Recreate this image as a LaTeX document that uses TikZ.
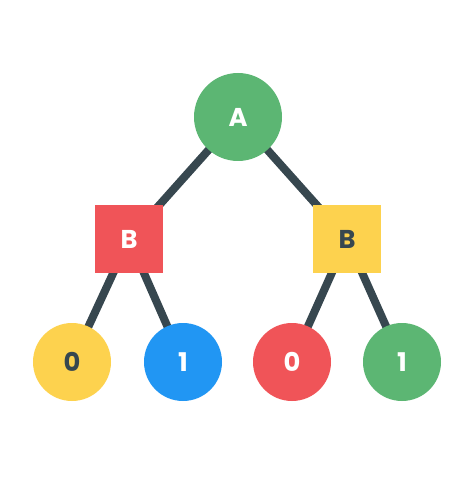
\documentclass[tikz,border=0pt]{standalone}
\usepackage{fontspec}
\setmainfont{Poppins}
\usepackage{xcolor}
\usetikzlibrary{backgrounds}

\definecolor{leafgreen}{HTML}{5CB673}
\definecolor{leafred}{HTML}{F05458}
\definecolor{leafyellow}{HTML}{FDD24E}
\definecolor{leafblue}{HTML}{2196F3}
\definecolor{edgegray}{HTML}{37474F}

\begin{document}
\begin{tikzpicture}[x=0.03cm,y=-0.03cm]
    % Define styles
    \tikzstyle{label}=[font=\fontsize{22}{26}\selectfont\bfseries]
    \tikzstyle{root}=[circle,minimum size=2.64cm,inner sep=0pt,label,text=white]
    \tikzstyle{test}=[rectangle,minimum size=2.04cm,inner sep=0pt,label]
    \tikzstyle{leaf}=[circle,minimum size=2.34cm,inner sep=0pt,label]
    \tikzstyle{edge}=[draw=edgegray,line width=0.24cm]

    \useasboundingbox (0,0) rectangle (474,489);

    % Root
    \node[root,fill=leafgreen] (a) at (238,117) {A};

    % Second level
    \node[test,fill=leafred,text=white] (bl) at (129,239) {B};
    \node[test,fill=leafyellow,text=edgegray] (br) at (347,239) {B};

    % Leaves
    \node[leaf,fill=leafyellow,text=edgegray] (l1) at (72,362) {0};
    \node[leaf,fill=leafblue,text=white] (l2) at (183,362) {1};
    \node[leaf,fill=leafred,text=white] (l3) at (292,362) {0};
    \node[leaf,fill=leafgreen,text=white] (l4) at (402,362) {1};

    % Draw connections
    \begin{pgfonlayer}{background}
        \draw[edge] (a.center) -- (bl.center);
        \draw[edge] (a.center) -- (br.center);
        \foreach \i in {1,2} {
            \draw[edge] (bl.center) -- (l\i.center);
        }
        \foreach \i in {3,4} {
            \draw[edge] (br.center) -- (l\i.center);
        }
    \end{pgfonlayer}
\end{tikzpicture}
\end{document}
